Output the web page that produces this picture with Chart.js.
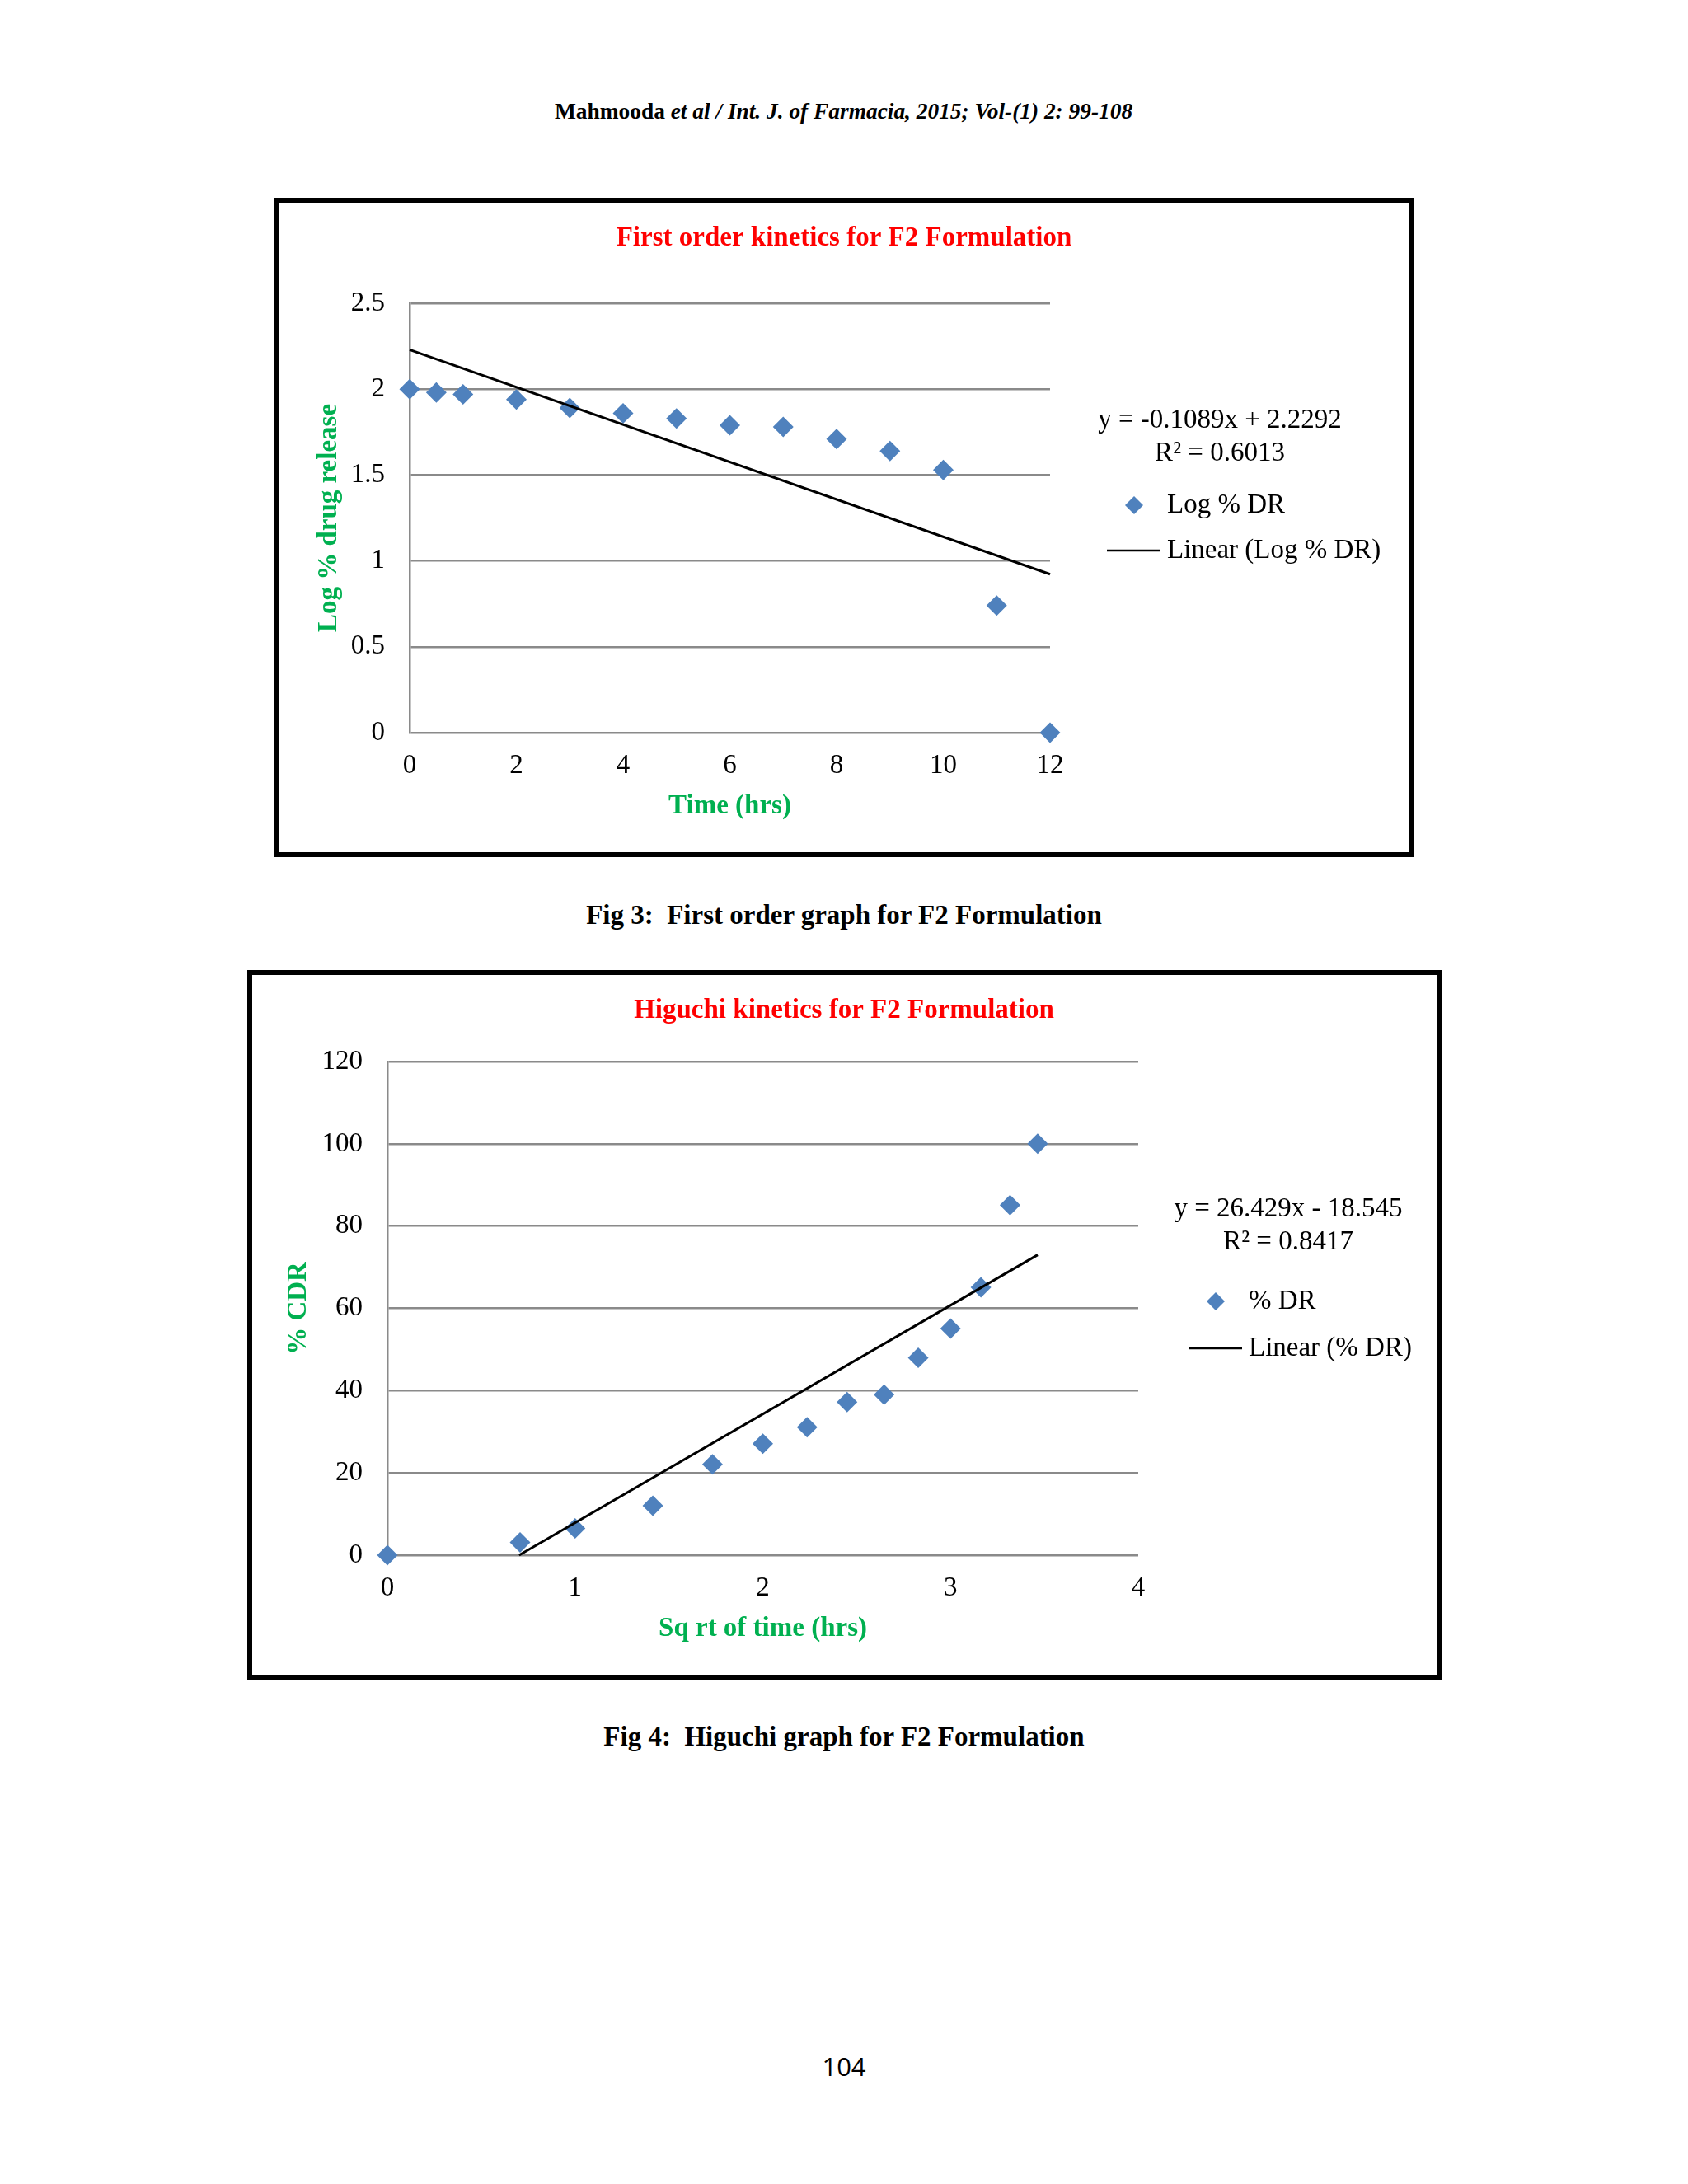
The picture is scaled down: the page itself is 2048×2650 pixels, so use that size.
<!DOCTYPE html>
<html>
<head>
<meta charset="utf-8">
<title>F2 Formulation kinetics</title>
<script src="https://cdn.jsdelivr.net/npm/chart.js@4.4.1/dist/chart.umd.min.js"></script>
<style>
  html, body { margin: 0; padding: 0; background: #fff; }
  #page { position: relative; width: 2048px; height: 2650px; background: #fff; font-family: "Liberation Serif", "Times New Roman", serif; color: #000; }
  .line { position: absolute; left: 0; width: 2048px; text-align: center; white-space: pre; line-height: 1; }
  .line span.fit { display: inline-block; transform-origin: center; }
  .box { position: absolute; border: 6px solid #000; box-sizing: border-box; background: #fff; }
  .box .inner { position: absolute; left: 0; top: 0; right: 0; bottom: 0; }
</style>
</head>
<body>
<div id="page">
  <div class="line" id="header" style="top:121px;font-size:28px;font-weight:bold;"><span class="fit" data-w="701">Mahmooda <i>et al / Int. J. of Farmacia, 2015; Vol-(1) 2: 99-108</i></span></div>

  <div class="box" style="left:333px;top:240px;width:1382px;height:800px;">
    <div class="inner"><canvas id="firstOrder"></canvas></div>
  </div>
  <div class="line" style="top:1094px;font-size:33px;font-weight:bold;">Fig 3:  First order graph for F2 Formulation</div>

  <div class="box" style="left:300px;top:1177px;width:1450px;height:862px;">
    <div class="inner"><canvas id="higuchi"></canvas></div>
  </div>
  <div class="line" style="top:2091px;font-size:33px;font-weight:bold;">Fig 4:  Higuchi graph for F2 Formulation</div>

  <div class="line" style="top:2492px;font-size:31px;font-family:'Open Sans','Noto Sans',sans-serif;">104</div>
</div>

<script>
// First order: time vs log % drug release
const timeHrs = [0, 0.5, 1, 2, 3, 4, 5, 6, 7, 8, 9, 10, 11, 12];
const logDR = [2.00, 1.98, 1.97, 1.94, 1.89, 1.86, 1.83, 1.79, 1.78, 1.71, 1.64, 1.53, 0.74, 0];
const logTrendX = [0, 12];
const logTrendY = [2.2292, 0.9224];

// Higuchi: square root of time vs % CDR
const sqrtTime = [0, 0.707, 1, 1.414, 1.732, 2, 2.236, 2.449, 2.646, 2.828, 3, 3.162, 3.317, 3.464];
const cdr = [0, 3.1, 6.5, 12.0, 22.1, 27.1, 31.1, 37.2, 39.0, 48.0, 55.1, 65.1, 85.1, 100];
const higTrendX = [0.7017, 3.4641];
const higTrendY = [0, 73.0];

const SERIF = '"Liberation Serif", "Times New Roman", serif';
const BLUE = '#4f81bd';
const GRID = '#8a8a8a';
const GREEN = '#00b050';

// fit the condensed header to its width
document.querySelectorAll('span.fit').forEach((el) => {
  const w = Number(el.dataset.w);
  el.style.transform = `scaleX(${w / el.offsetWidth})`;
});

function toPoints(xs, ys) {
  return xs.map((x, i) => ({ x, y: ys[i] }));
}

function diamond(ctx, x, y, r) {
  ctx.beginPath();
  ctx.moveTo(x - r, y);
  ctx.lineTo(x, y - r);
  ctx.lineTo(x + r, y);
  ctx.lineTo(x, y + r);
  ctx.closePath();
  ctx.fillStyle = BLUE;
  ctx.fill();
}

// chart title, trendline equation and legend, drawn inside the canvas
const overlay = {
  id: 'overlay',
  afterDraw(chart, args, o) {
    const ctx = chart.ctx;
    ctx.save();
    ctx.textBaseline = 'middle';
    ctx.textAlign = 'center';
    ctx.fillStyle = '#ff0000';
    ctx.font = `bold 33px ${SERIF}`;
    ctx.fillText(o.title, o.titleX, o.titleY);

    ctx.fillStyle = '#000';
    ctx.font = `33px ${SERIF}`;
    o.eq.forEach((t, i) => ctx.fillText(t, o.eqX, o.eqY + i * 40));

    diamond(ctx, o.legX, o.legY, 11);
    ctx.strokeStyle = '#000';
    ctx.lineWidth = 2.5;
    ctx.beginPath();
    ctx.moveTo(o.lineX0, o.legY2);
    ctx.lineTo(o.lineX1, o.legY2);
    ctx.stroke();

    ctx.fillStyle = '#000';
    ctx.textAlign = 'left';
    ctx.fillText(o.labels[0], o.textX, o.legY);
    ctx.fillText(o.labels[1], o.textX, o.legY2);
    ctx.restore();
  }
};

function makeChart(id, cfg) {
  return new Chart(document.getElementById(id), {
    type: 'scatter',
    data: {
      datasets: [
        {
          label: cfg.labels[1],
          data: toPoints(cfg.trendX, cfg.trendY),
          showLine: true,
          borderColor: '#000',
          borderWidth: 3,
          pointRadius: 0,
          clip: false,
        },
        {
          label: cfg.labels[0],
          data: toPoints(cfg.xs, cfg.ys),
          pointStyle: 'rectRot',
          pointRadius: 12.5,
          pointBackgroundColor: BLUE,
          pointBorderColor: BLUE,
          pointBorderWidth: 0,
          clip: false,
        },
      ],
    },
    options: {
      responsive: true,
      maintainAspectRatio: false,
      animation: false,
      layout: { padding: { left: 0, top: cfg.padTop, right: cfg.padRight, bottom: 0 } },
      plugins: {
        legend: { display: false },
        tooltip: { enabled: false },
        overlay: cfg.overlay,
      },
      scales: {
        x: {
          type: 'linear',
          min: cfg.xMin, max: cfg.xMax,
          afterFit: (s) => { s.height = cfg.xHeight; },
          ticks: { stepSize: cfg.xStep, color: '#000', padding: 21, font: { family: SERIF, size: 33 }, callback: (v) => String(v) },
          grid: { display: false, drawTicks: false, tickLength: 0 },
          border: { display: false },
          title: { display: true, text: cfg.xTitle, color: GREEN, font: { family: SERIF, size: 33, weight: 'bold' }, padding: { top: 0, bottom: cfg.xTitlePad } },
        },
        y: {
          min: cfg.yMin, max: cfg.yMax,
          afterFit: (s) => { s.width = cfg.yWidth; },
          ticks: { stepSize: cfg.yStep, color: '#000', padding: 30, font: { family: SERIF, size: 33 }, callback: (v) => String(v) },
          grid: { color: GRID, lineWidth: 2.5, drawTicks: false, tickLength: 0 },
          border: { display: true, color: GRID, width: 2.5 },
          title: { display: true, text: cfg.yTitle, color: GREEN, font: { family: SERIF, size: 33, weight: 'bold' }, padding: { top: cfg.yTitlePad, bottom: 0 } },
        },
      },
    },
    plugins: [overlay],
  });
}

makeChart('firstOrder', {
  xs: timeHrs, ys: logDR, trendX: logTrendX, trendY: logTrendY,
  labels: ['Log % DR', 'Linear (Log % DR)'],
  xMin: 0, xMax: 12, xStep: 2,
  yMin: 0, yMax: 2.5, yStep: 0.5,
  xTitle: 'Time (hrs)', yTitle: 'Log % drug release',
  padTop: 122, padRight: 435, yWidth: 158, xHeight: 145,
  xTitlePad: 36, yTitlePad: 41,
  overlay: {
    title: 'First order kinetics for F2 Formulation', titleX: 685, titleY: 43,
    eq: ['y = -0.1089x + 2.2292', 'R\u00b2 = 0.6013'], eqX: 1141, eqY: 264,
    labels: ['Log % DR', 'Linear (Log % DR)'],
    legX: 1037, legY: 367, legY2: 422, lineX0: 1004, lineX1: 1069, textX: 1077,
  },
});

makeChart('higuchi', {
  xs: sqrtTime, ys: cdr, trendX: higTrendX, trendY: higTrendY,
  labels: ['% DR', 'Linear (% DR)'],
  xMin: 0, xMax: 4, xStep: 1,
  yMin: 0, yMax: 120, yStep: 20,
  xTitle: 'Sq rt of time (hrs)', yTitle: '% CDR',
  padTop: 105, padRight: 363, yWidth: 164, xHeight: 146,
  xTitlePad: 37, yTitlePad: 37,
  overlay: {
    title: 'Higuchi kinetics for F2 Formulation', titleX: 718, titleY: 43,
    eq: ['y = 26.429x - 18.545', 'R\u00b2 = 0.8417'], eqX: 1257, eqY: 284,
    labels: ['% DR', 'Linear (% DR)'],
    legX: 1169, legY: 396, legY2: 453, lineX0: 1137, lineX1: 1201, textX: 1209,
  },
});
</script>
</body>
</html>
